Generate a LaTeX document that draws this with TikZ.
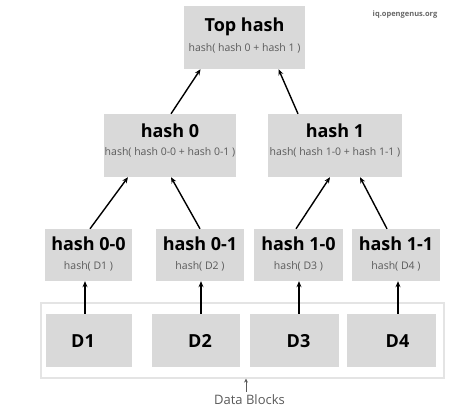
\documentclass[tikz,border=0pt]{standalone}
\usepackage{fontspec}
\setmainfont{Open Sans}
\usetikzlibrary{arrows.meta}
\definecolor{boxgray}{HTML}{D9D9D9}
\definecolor{subgray}{HTML}{5A5A5A}
\definecolor{framegray}{HTML}{E4E4E4}
\tikzstyle{hashbox}=[rectangle, fill=boxgray, inner sep=0pt]
\tikzstyle{blockframe}=[rectangle, draw=framegray, line width=1.2pt, inner sep=0pt]
\tikzstyle{title}=[anchor=base, inner sep=0pt, font=\bfseries\fontsize{18}{20}\selectfont]
\tikzstyle{subtitle}=[anchor=base, inner sep=0pt, text=subgray, font=\fontsize{10.5}{12}\selectfont]
\tikzstyle{edge}=[draw, line width=1.4pt, -{Stealth[length=6pt,width=5pt]}]

\begin{document}
\begin{tikzpicture}[x=1pt, y=-1pt]
  \useasboundingbox (0,0) rectangle (474,414);

  % The frame round the data blocks
  \node[blockframe, minimum width=403pt, minimum height=75pt] (data) at (242.5, 340.5) {};

  % All the boxes
  \foreach \pos/\name/\w/\h in {{(244.5, 37.5)/top/121/63}, {(170, 145.5)/h0/132/63}, {(335, 145.5)/h1/134/63},
      {(88.5, 255)/h00/87/52}, {(200, 255)/h01/88/52}, {(298.5, 255)/h10/89/52}, {(396, 255)/h11/88/52},
      {(89, 340.5)/d1/86/53}, {(196, 340.5)/d2/88/53}, {(294.5, 340.5)/d3/89/53}, {(391.5, 340.5)/d4/89/53}} {
    \node[hashbox, minimum width=\w pt, minimum height=\h pt] (\name) at \pos {};
  }

  % Titles and what each hash is made of
  \foreach \name/\dt/\ds/\ttl/\sub in {top/26/46/Top hash/hash( hash 0 + hash 1 ),
      h0/24/42/hash 0/hash( hash 0-0 + hash 0-1 ), h1/24/42/hash 1/hash( hash 1-0 + hash 1-1 ),
      h00/22/41/hash 0-0/hash( D1 ), h01/22/41/hash 0-1/hash( D2 ),
      h10/22/41/hash 1-0/hash( D3 ), h11/22/41/hash 1-1/hash( D4 )} {
    \node[title] (\name-t) at ([yshift=-\dt pt]\name.north) {\ttl};
    \node[subtitle] (\name-s) at ([yshift=-\ds pt]\name.north) {\sub};
  }

  % The data blocks
  \foreach \name/\dx in {d1/-6, d2/4, d3/4, d4/6}
    \node[title] (\name-t) at ([xshift=\dx pt, yshift=-6.5pt]\name.center) {\MakeUppercase{\name}};

  % Hashes up the tree
  \path[edge] ([xshift=1pt]h0.north) -- ([xshift=-44pt]top.south);
  \path[edge] ([xshift=-37pt]h1.north) -- ([xshift=34pt]top.south);
  \path[edge] ([xshift=1.5pt]h00.north) -- ([xshift=-42pt]h0.south);
  \path[edge] (h01.north) -- ([xshift=1pt]h0.south);
  \path[edge] ([xshift=-2.5pt]h10.north) -- ([xshift=-5pt]h1.south);
  \path[edge] ([xshift=-9pt]h11.north) -- ([xshift=25pt]h1.south);

  % Data blocks into the leaves
  \foreach \source/\sink/\dx in {d1/h00/-4, d2/h01/5, d3/h10/4.5, d4/h11/6.5}
    \path[edge] ([xshift=\dx pt]\source.north) -- ([xshift=\dx pt]\source.north |- \sink.south);

  % Label of the frame
  \node[anchor=base, inner sep=0pt, text=subgray, font=\fontsize{13}{15}\selectfont] (blocks) at (249.5, 404) {Data Blocks};
  \path[draw, line width=0.8pt, subgray, -{Stealth[length=4pt,width=4pt]}] ([xshift=-3.5pt, yshift=2pt]blocks.north) -- ([xshift=-3.5pt]blocks.north |- data.south);

  % Watermark
  \node[anchor=base, inner sep=0pt, text=black!60, font=\bfseries\fontsize{7.5}{9}\selectfont] (mark) at (405, 17) {iq.opengenus.org};
\end{tikzpicture}
\end{document}
